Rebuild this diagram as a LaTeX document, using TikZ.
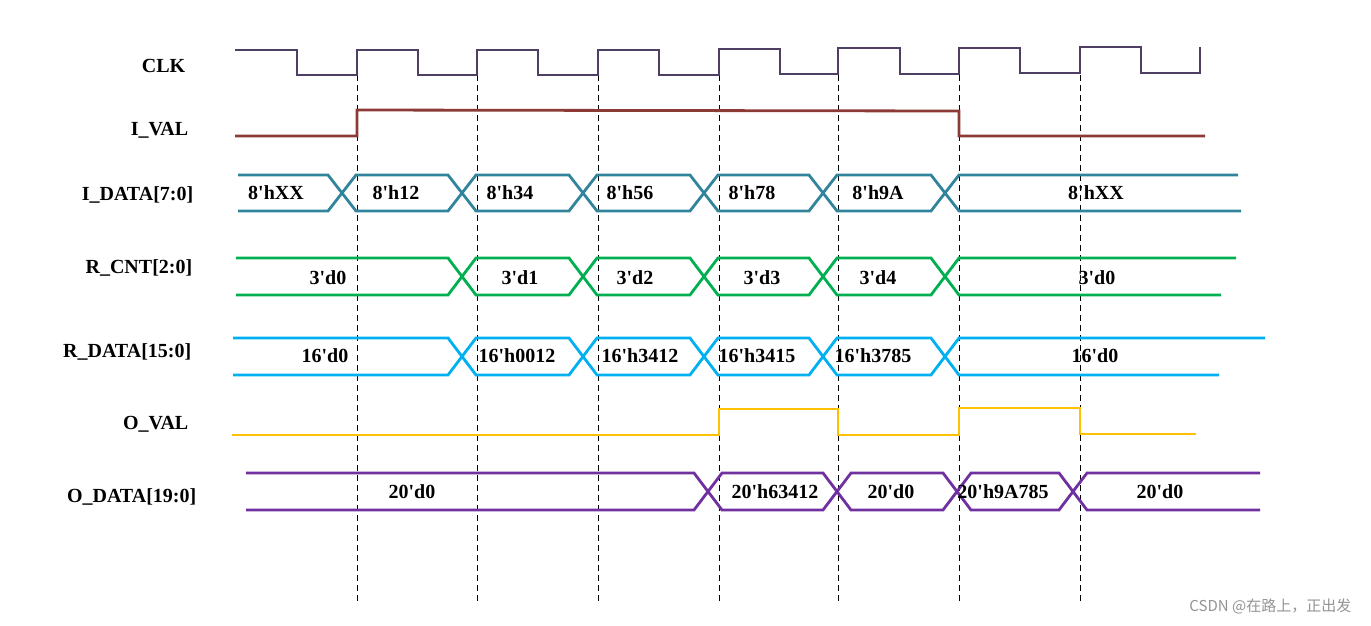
\documentclass[tikz,border=0pt]{standalone}
\usepackage{fontspec}
\setmainfont{Liberation Serif}
\newfontfamily\cjk{Noto Sans CJK SC}
\definecolor{clkc}{HTML}{4F3F64}
\definecolor{ivalc}{HTML}{8B3A36}
\definecolor{idc}{HTML}{31849B}
\definecolor{rcc}{HTML}{00B050}
\definecolor{rdc}{HTML}{00B0F0}
\definecolor{ovc}{HTML}{FFC000}
\definecolor{odc}{HTML}{7030A0}
\newcommand{\q}{\textquotesingle}
\newcommand{\hseg}[5]{% color, top, bot, x1, x2  closed both ends
 \draw[#1] ({#4},{(#2+#3)/2}) -- ({#4+14},#2) -- ({#5-14},#2) -- ({#5},{(#2+#3)/2}) -- ({#5-14},#3) -- ({#4+14},#3) -- cycle;}
\newcommand{\fseg}[5]{% open left
 \draw[#1] ({#4},#2) -- ({#5-14},#2) -- ({#5},{(#2+#3)/2}) -- ({#5-14},#3) -- ({#4},#3);}
\newcommand{\lseg}[6]{% open right: top end #5, bottom end #6
 \draw[#1] ({#5},#2) -- ({#4+14},#2) -- ({#4},{(#2+#3)/2}) -- ({#4+14},#3) -- ({#6},#3);}
\begin{document}
\begin{tikzpicture}[x=1pt,y=-1pt,line width=2.8pt,line join=miter,
 lab/.style={anchor=east,font=\bfseries\fontsize{20}{22}\selectfont},
 val/.style={font=\bfseries\fontsize{20}{22}\selectfont}]
\useasboundingbox (0,0) rectangle (1371,625);
% dashed
\foreach \x in {357,477,598,719,838,959,1080}
 \draw[dash pattern=on 6pt off 4pt,line width=1pt] (\x,75) -- (\x,603);
% labels
\node[lab] at (190,66) {CLK};
\node[lab] at (193,130) {I\_VAL};
\node[lab] at (198,195) {I\_DATA[7:0]};
\node[lab] at (197,268) {R\_CNT[2:0]};
\node[lab] at (196,352) {R\_DATA[15:0]};
\node[lab] at (193,424) {O\_VAL};
\node[lab] at (201,497) {O\_DATA[19:0]};
% CLK
\draw[clkc] (235,50) -- (297,50) -- (297,75) -- (357,75) -- (357,50) -- (418,50) -- (418,75) -- (477,75) -- (477,50) -- (538,50) -- (538,75) -- (598,75) -- (598,50) -- (659,50) -- (659,75) -- (719,75) -- (719,49) -- (780,49) -- (780,74) -- (838,74) -- (838,48) -- (900,48) -- (900,74) -- (959,74) -- (959,48) -- (1020,48) -- (1020,73) -- (1080,73) -- (1080,47) -- (1141,47) -- (1141,73) -- (1200,73) -- (1200,47);
% I_VAL
\draw[ivalc] (235,136) -- (357,136) -- (357,110) -- (959,111) -- (959,136) -- (1205,136);
% I_DATA
\fseg{idc}{175}{211}{238}{342}
\foreach \a/\b in {342/462,462/583,583/704,704/823,823/945} {\hseg{idc}{175}{211}{\a}{\b}}
\lseg{idc}{175}{211}{945}{1238}{1241}
\foreach \x/\t in {276/8\q hXX,396/8\q h12,510/8\q h34,630/8\q h56,752/8\q h78,878/8\q h9A,1096/8\q hXX}
 \node[val] at (\x,193) {\t};
% R_CNT
\fseg{rcc}{258}{295}{236}{462}
\foreach \a/\b in {462/583,583/704,704/823,823/945} {\hseg{rcc}{258}{295}{\a}{\b}}
\lseg{rcc}{258}{295}{945}{1236}{1221}
\foreach \x/\t in {328/3\q d0,520/3\q d1,635/3\q d2,762/3\q d3,878/3\q d4,1097/3\q d0}
 \node[val] at (\x,278) {\t};
% R_DATA
\fseg{rdc}{338}{375}{233}{462}
\foreach \a/\b in {462/583,583/704,704/823,823/945} {\hseg{rdc}{338}{375}{\a}{\b}}
\lseg{rdc}{338}{375}{945}{1265}{1219}
\foreach \x/\t in {325/16\q d0,517/16\q h0012,640/16\q h3412,757/16\q h3415,873/16\q h3785,1095/16\q d0}
 \node[val] at (\x,356) {\t};
% O_VAL
\draw[ovc] (232,435) -- (719,435) -- (719,409) -- (838,409) -- (838,435) -- (959,435) -- (959,408) -- (1080,408) -- (1080,434) -- (1196,434);
% O_DATA
\fseg{odc}{473}{510}{246}{708}
\foreach \a/\b in {708/837,837/957,957/1073} {\hseg{odc}{473}{510}{\a}{\b}}
\lseg{odc}{473}{510}{1073}{1260}{1260}
\foreach \x/\t in {412/20\q d0,775/20\q h63412,891/20\q d0,1003/20\q h9A785,1160/20\q d0}
 \node[val] at (\x,492) {\t};
% watermark
\node[font=\cjk\fontsize{15}{17}\selectfont,text=gray!85,anchor=east] at (1356,606) {CSDN @在路上，正出发};
\end{tikzpicture}
\end{document}
